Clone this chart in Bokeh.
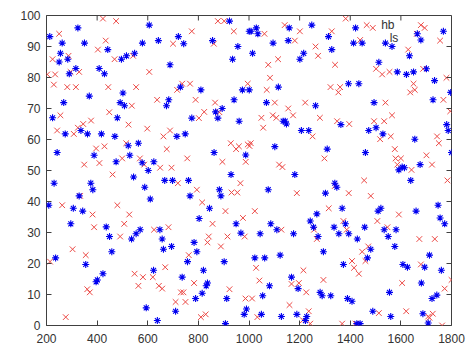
import math
from bokeh.plotting import figure
from bokeh.models import Range1d, Label, FixedTicker
from bokeh.embed import file_html
from bokeh.resources import INLINE

# series "ls" (blue asterisks)
ls_x = [324,213,262,350,442,255,250,284,496,516,548,579,606,316,290,408,429,502,369,268,491,508,224,480,274,336,362,417,470,523,563,242,388,529,475,578,602,
        642,721,742,856,956,1001,935,688,729,810,974,1001,683,674,941,894,868,774,877,961,748,715,862,987,624,923,
        1008,1029,1035,1159,1248,1314,1095,1155,1014,1216,1201,1327,1116,1393,1069,1263,1135,1143,1148,1363,1207,1236,1102,1309,
        1421,1413,1447,1539,1565,1665,1679,1768,1634,1513,1586,1622,1650,1701,1434,1733,1797,1727,1494,1781,1787,1502,1473,1529,1655,1460,1800,1676,1592,1605,1614,
        230,375,383,544,588,610,329,209,306,343,296,436,449,536,554,570,236,458,355,423,396,401,594,
        667,698,761,929,883,889,767,844,803,949,968,648,657,662,694,783,794,757,820,902,623,736,836,831,815,789,912,710,638,907,981,990,
        1181,1076,1339,1347,1302,1268,1368,1242,1086,1110,1255,1336,1381,1355,1394,1044,1176,1273,1294,1023,1062,1123,1373,1168,1081,1194,1054,1281,1289,1323,1389,1049,1128,1189,1228,1223,
        1639,1747,1660,1510,1521,1755,1773,1457,1534,1581,1550,1428,1576,1481,1468,1713,1608,1626,1694,1760,1681,1555,1407,1742,1723,1489,1560,1687,1708,1426,1439]
ls_y = [96.0,93.2,91.1,91.1,89.0,87.8,85.0,85.9,85.9,87.0,87.8,91.1,96.9,82.9,81.2,82.9,81.2,75.0,74.0,71.9,71.9,70.9,67.0,67.0,61.8,62.9,61.8,61.8,61.0,58.0,58.8,55.8,54.9,54.9,52.8,52.5,50.0,
        91.9,93.2,90.9,91.9,90.0,94.9,85.9,84.1,76.9,76.0,76.0,76.0,72.8,70.9,72.8,70.0,68.9,66.9,66.9,65.9,61.8,61.0,55.8,55.0,52.8,98.2,
        94.9,96.0,94.1,96.0,96.9,93.2,91.1,91.9,87.8,87.8,85.9,89.0,76.9,78.0,71.9,70.9,65.9,65.9,65.0,64.8,62.9,62.9,57.7,56.9,
        96.0,91.1,91.1,91.1,90.0,94.1,92.1,94.9,87.0,84.9,81.8,81.0,81.8,82.8,78.0,79.0,75.2,72.8,71.9,64.8,62.9,63.8,62.9,61.8,60.1,55.8,55.8,51.9,50.2,51.1,50.9,
        45.9,45.9,43.8,47.9,44.6,40.8,41.8,38.8,37.8,36.9,32.8,31.8,28.7,27.9,29.6,30.9,21.8,23.8,19.7,16.7,14.1,14.7,5.7,
        46.8,46.8,46.8,48.7,43.8,41.8,41.8,37.8,34.5,32.8,29.8,30.9,27.9,24.6,25.5,26.8,23.8,20.6,17.8,20.6,17.8,15.6,13.7,12.8,10.4,8.7,8.7,4.6,1.6,0.6,3.6,5.3,
        48.7,43.8,45.9,44.6,42.7,36.0,37.8,33.7,32.8,30.9,31.7,31.7,32.8,29.6,29.6,29.6,29.6,28.7,23.8,21.8,21.8,22.7,19.7,15.6,12.8,11.9,9.6,10.7,9.6,9.6,8.7,3.6,2.9,3.6,2.9,1.6,
        46.8,38.8,36.9,36.9,37.8,34.7,32.8,31.7,30.9,30.9,28.7,27.9,25.5,24.6,21.8,22.7,19.7,18.8,18.8,17.8,13.7,10.7,7.8,9.8,8.7,4.6,2.9,3.8,0.8,0.6,0.6]

# series "hb" (red crosses)
hb_x = [423,475,250,434,403,287,224,469,542,606,295,329,203,234,229,282,316,444,554,537,448,255,376,345,324,524,242,308,598,515,396,429,499,569,349,409,586,
        877,902,774,940,700,861,736,767,716,995,637,789,866,823,802,883,688,662,675,928,960,949,995,756,895,987,649,694,
        1141,1201,1327,1061,1181,1382,1263,1273,1115,1076,1340,1083,1070,1322,1360,1353,1102,1222,1155,1174,1094,1108,1049,1280,1348,1396,1056,1251,1007,1002,1298,1119,1132,
        1465,1489,1679,1694,1663,1439,1755,1629,1502,1526,1555,1688,1780,1650,1655,1637,1768,1539,1795,1565,1494,1534,1518,1560,1743,1750,1576,1701,1579,1600,1586,1723,1642,
        461,333,262,480,382,527,507,388,491,303,355,214,548,581,563,361,371,276,
        719,966,794,931,954,815,907,976,856,682,625,841,836,915,889,983,762,669,620,644,657,783,923,731,741,710,749,986,810,829,
        1189,1339,1394,1023,1315,1373,1386,1128,1257,1268,1028,1215,1294,1041,1168,1197,1226,1012,1160,1236,1033,1213,1242,1368,
        1455,1784,1481,1592,1507,1547,1673,1734,1471,1447,1407,1415,1460,1434,1679,1800,1605,1773,1513,1621,1726,1708,1713,1421,1763]
hb_y = [99.0,98.2,94.1,91.9,89.0,87.0,85.9,85.9,87.0,81.8,81.8,81.8,81.0,81.0,77.7,76.9,76.9,76.9,76.9,70.9,68.8,67.8,66.1,65.0,63.8,64.8,62.9,61.8,63.5,58.8,57.1,57.8,53.9,53.9,51.9,52.4,51.9,
        98.2,98.2,94.9,94.9,90.9,90.9,78.0,78.0,76.0,78.0,72.8,72.8,71.9,68.9,66.9,68.8,62.9,61.0,56.9,58.8,57.8,56.9,58.4,53.9,52.8,52.8,50.9,50.9,
        96.9,94.9,94.9,94.1,91.9,99.0,90.0,87.0,85.9,84.1,84.1,79.9,76.0,76.9,76.9,75.2,71.9,71.9,70.0,67.8,67.8,67.0,67.0,67.0,65.9,65.0,63.8,61.0,58.8,57.9,53.9,51.9,51.1,
        96.9,96.0,96.9,96.0,94.1,92.1,91.9,89.0,82.8,81.0,81.8,82.8,79.9,78.0,76.0,75.2,72.8,71.9,69.1,67.8,65.9,65.9,60.1,61.0,61.0,58.8,56.9,54.9,53.9,53.9,51.9,51.9,50.2,
        48.7,41.8,38.8,38.8,35.8,35.8,32.8,31.7,28.7,24.6,22.7,20.6,16.7,15.6,12.8,11.7,10.7,2.7,
        45.9,45.9,43.8,42.9,42.9,39.7,36.9,34.7,32.8,31.7,30.9,28.7,26.8,28.7,25.5,28.7,22.7,18.8,15.6,12.8,11.9,13.7,11.7,10.7,10.7,7.6,7.6,8.7,2.7,3.6,
        42.7,45.0,42.7,36.9,37.8,33.7,30.9,30.9,30.9,27.9,18.6,17.8,14.7,14.5,13.4,13.7,10.7,8.7,6.6,4.6,2.7,1.7,0.6,0.6,
        46.8,46.8,41.8,35.8,33.7,31.7,27.9,27.9,25.5,23.8,20.8,18.6,20.8,16.7,19.7,14.7,13.7,11.9,4.0,4.6,3.8,2.9,2.5,0.6,0.0]

x_ticks = [200, 400, 600, 800, 1000, 1200, 1400, 1600, 1800]
y_ticks = [0, 10, 20, 30, 40, 50, 60, 70, 80, 90, 100]
legend_labels = ["hb", "ls"]

X_MIN, X_MAX, Y_MIN, Y_MAX = 200, 1800, 0, 100

p = figure(width=474, height=355, output_backend="svg", toolbar_location=None,
           x_range=Range1d(X_MIN, X_MAX), y_range=Range1d(Y_MIN, Y_MAX),
           min_border_left=46, min_border_right=23, min_border_top=15, min_border_bottom=30)
p.background_fill_color = "white"
p.border_fill_color = "white"
p.outline_line_color = "#404040"
p.outline_line_width = 1
p.grid.visible = False

p.scatter(hb_x, hb_y, marker="x", size=8, line_color="#ec4a46", line_width=1)
p.scatter(ls_x, ls_y, marker="asterisk", size=7, line_color="#0000f0", line_width=1.1)

for ax, ticks in ((p.xaxis[0], x_ticks), (p.yaxis[0], y_ticks)):
    ax.ticker = FixedTicker(ticks=ticks)
    ax.major_tick_in = 5
    ax.major_tick_out = 0
    ax.minor_tick_line_color = None
    ax.axis_line_color = None
    ax.major_tick_line_color = "#404040"
    ax.major_label_text_font = "Liberation Sans"
    ax.major_label_text_font_size = "12px"
    ax.major_label_text_color = "#333333"
p.xaxis[0].major_label_standoff = 8
p.yaxis[0].major_label_standoff = 6

# mirrored ticks on the top and right frame edges
p.ray(x=x_ticks, y=[Y_MAX] * len(x_ticks), length=5, length_units="screen",
      angle=-math.pi / 2, line_color="#404040", line_width=1)
p.ray(x=[X_MAX] * len(y_ticks), y=y_ticks, length=5, length_units="screen",
      angle=math.pi, line_color="#404040", line_width=1)

p.add_layout(Label(x=1575, y=96.8, text=legend_labels[0], text_align="right", text_baseline="middle",
                   text_font="Liberation Sans", text_font_size="12px", text_color="#333333"))
p.add_layout(Label(x=1590, y=92.6, text=legend_labels[1], text_align="right", text_baseline="middle",
                   text_font="Liberation Sans", text_font_size="12px", text_color="#333333"))

open("out.html", "w").write(file_html(p, INLINE))
